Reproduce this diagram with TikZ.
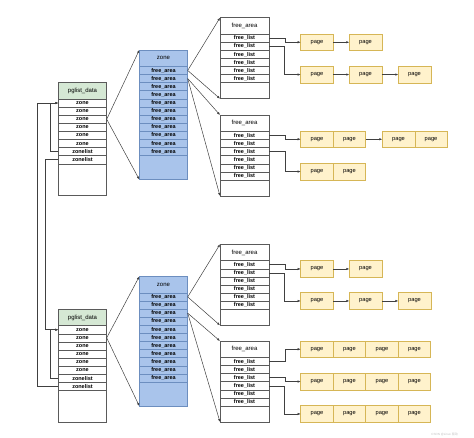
\documentclass[tikz,border=0pt]{standalone}
\usepackage{fontspec}
\setmainfont{Liberation Sans}
\newfontfamily\cjk{Noto Sans CJK SC}
\usetikzlibrary{arrows.meta}
\definecolor{pgfill}{HTML}{D5E8D4}
\definecolor{zfill}{HTML}{A9C4EB}
\definecolor{zline}{HTML}{6C8EBF}
\definecolor{pfill}{HTML}{FFF2CC}
\definecolor{pline}{HTML}{D6B656}
\definecolor{bline}{HTML}{5A5A5A}
\definecolor{cline}{HTML}{404040}
\tikzset{
  base/.style={anchor=north west, inner sep=0pt, outer sep=0pt, line width=0.5pt},
  hdrfont/.style={font=\fontsize{6}{7}\selectfont},
  rowfont/.style={font=\bfseries\fontsize{5.5}{6}\selectfont},
  pghdr/.style={base, hdrfont, draw=bline, fill=pgfill, minimum width=48.4pt, minimum height=16.4pt},
  pgrow/.style={base, rowfont, draw=bline, fill=white, minimum width=48.4pt, minimum height=8.1pt},
  zhdr/.style={base, hdrfont, draw=zline, fill=zfill, minimum width=48.4pt, minimum height=16.4pt},
  zrow/.style={base, rowfont, draw=zline, fill=zfill, minimum width=48.4pt, minimum height=8.1pt},
  fahdr/.style={base, hdrfont, draw=bline, fill=white, minimum width=49pt, minimum height=16.4pt},
  farow/.style={base, rowfont, draw=bline, fill=white, minimum width=49pt, minimum height=8.1pt},
  pagebox/.style={base, draw=pline, fill=pfill, minimum width=32.5pt, minimum height=16.5pt, font=\fontsize{5.7}{6.5}\selectfont},
  conn/.style={draw=cline, line width=0.5pt, -{Latex[length=3pt,width=2.4pt]}}
}
% #1 name, #2 x, #3 y, #4 family, #5 header text, #6 n rows, #7 row list, #8 blank height
\newcommand\mkstack[8]{%
  \node[#4hdr] (#1-h) at (#2,#3) {#5};
  \foreach \t [count=\i] in {#7} {\node[#4row] (#1-\i) at (#2,{#3+16.4+(\i-1)*8.1}) {\t};}
  \node[#4row, minimum height=#8pt] (#1-b) at (#2,{#3+16.4+#6*8.1}) {};
}
\begin{document}
\begin{tikzpicture}[x=1pt,y=-1pt]
\useasboundingbox (0,0) rectangle (474,438);
% pglist_data
\mkstack{pgA}{58.3}{82.6}{pg}{pglist\_data}{8}{zone,zone,zone,zone,zone,zone,zonelist,zonelist}{31.9}
\mkstack{pgB}{58.3}{309.3}{pg}{pglist\_data}{8}{zone,zone,zone,zone,zone,zone,zonelist,zonelist}{31.9}
% zones
\mkstack{zA}{139.3}{50}{z}{zone}{11}{free\_area,free\_area,free\_area,free\_area,free\_area,free\_area,free\_area,free\_area,free\_area,free\_area,free\_area}{24}
\mkstack{zB}{139.3}{276.5}{z}{zone}{11}{free\_area,free\_area,free\_area,free\_area,free\_area,free\_area,free\_area,free\_area,free\_area,free\_area,free\_area}{24}
% free_area boxes
\mkstack{fa1}{220}{17.7}{fa}{free\_area}{6}{free\_list,free\_list,free\_list,free\_list,free\_list,free\_list}{16}
\mkstack{fa2}{220}{115}{fa}{free\_area}{6}{free\_list,free\_list,free\_list,free\_list,free\_list,free\_list}{16}
\mkstack{fa3}{220}{244.3}{fa}{free\_area}{6}{free\_list,free\_list,free\_list,free\_list,free\_list,free\_list}{16}
\mkstack{fa4}{220}{341}{fa}{free\_area}{6}{free\_list,free\_list,free\_list,free\_list,free\_list,free\_list}{16}
% pages
\node[pagebox] (pA1) at (300.7,34) {page};
\node[pagebox] (pA2) at (349.3,34) {page};
\node[pagebox] (pB1) at (300.7,66.3) {page};
\node[pagebox] (pB2) at (349.3,66.3) {page};
\node[pagebox] (pB3) at (398.3,66.3) {page};
\node[pagebox] (pC1) at (300.7,131) {page};
\node[pagebox] (pC2) at (333.2,131) {page};
\node[pagebox] (pC3) at (382.3,131) {page};
\node[pagebox] (pC4) at (414.8,131) {page};
\node[pagebox] (pD1) at (300.7,163.3) {page};
\node[pagebox] (pD2) at (333.2,163.3) {page};
\node[pagebox] (pE1) at (300.7,260.7) {page};
\node[pagebox] (pE2) at (349.3,260.7) {page};
\node[pagebox] (pF1) at (300.7,292.7) {page};
\node[pagebox] (pF2) at (349.3,292.7) {page};
\node[pagebox] (pF3) at (398.3,292.7) {page};
\foreach \r/\y in {G/341,H/373.3,I/405.7}{
  \node[pagebox] (p\r1) at (300.7,\y) {page};
  \node[pagebox] (p\r2) at (333.2,\y) {page};
  \node[pagebox] (p\r3) at (365.7,\y) {page};
  \node[pagebox] (p\r4) at (398.2,\y) {page};
}
% pglist -> zone fans
\draw[conn] (pgA-3.east) -- (zA-h.north west);
\draw[conn] (pgA-3.east) -- (zA-b.south west);
\draw[conn] (pgB-2.east) -- (zB-h.north west);
\draw[conn] (pgB-2.east) -- (zB-b.south west);
% zone -> free_area fans
\draw[conn] (zA-1.east) -- (fa1-h.north west);
\draw[conn] (zA-1.east) -- (fa1-b.south west);
\draw[conn] (zA-2.east) -- (fa2-h.north west);
\draw[conn] (zA-2.east) -- (fa2-b.south west);
\draw[conn] (zB-1.east) -- (fa3-h.north west);
\draw[conn] (zB-1.east) -- (fa3-b.south west);
\draw[conn] (zB-3.east) -- (fa4-h.north west);
\draw[conn] (zB-3.east) -- (fa4-b.south west);
% zonelist links
\draw[conn] (pgA-7.west) -- ++(-8,0) |- (pgA-1.west);
\draw[conn] (pgA-8.west) -- ++(-13,0) |- (pgB-1.west);
\draw[conn] (pgB-7.west) -- ++(-8,0) |- (pgB-1.west);
\draw[conn] (pgB-8.west) -- ++(-21,0) |- (pgA-1.west);
% free_list -> pages
\draw[conn] (fa1-1.east) -- ++(16,0) |- (pA1.west);
\draw[conn] (fa1-2.east) -- ++(15,0) |- (pB1.west);
\draw[conn] (fa2-1.east) -- ++(16,0) |- (pC1.west);
\draw[conn] (fa2-3.east) -- ++(16,0) |- (pD1.west);
\draw[conn] (fa3-1.east) -- ++(16,0) |- (pE1.west);
\draw[conn] (fa3-2.east) -- ++(15,0) |- (pF1.west);
\draw[conn] (fa4-1.east) -- ++(16,0) |- (pG1.west);
\draw[conn] (fa4-3.east) -- ++(16,0) |- (pH1.west);
\draw[conn] (fa4-4.east) -- ++(15,0) |- (pI1.west);
% page -> page
\draw[conn] (pA1.east) -- (pA2.west);
\draw[conn] (pB1.east) -- (pB2.west);
\draw[conn] (pB2.east) -- (pB3.west);
\draw[conn] (pC2.east) -- (pC3.west);
\draw[conn] (pE1.east) -- (pE2.west);
\draw[conn] (pF1.east) -- (pF2.west);
\draw[conn] (pF2.east) -- (pF3.west);
% watermark
\node[anchor=east, inner sep=0pt, text=black!25, font=\fontsize{3}{3}\selectfont] (wm) at (458,434) {CSDN @Linux {\cjk 驱动}};
\end{tikzpicture}
\end{document}
